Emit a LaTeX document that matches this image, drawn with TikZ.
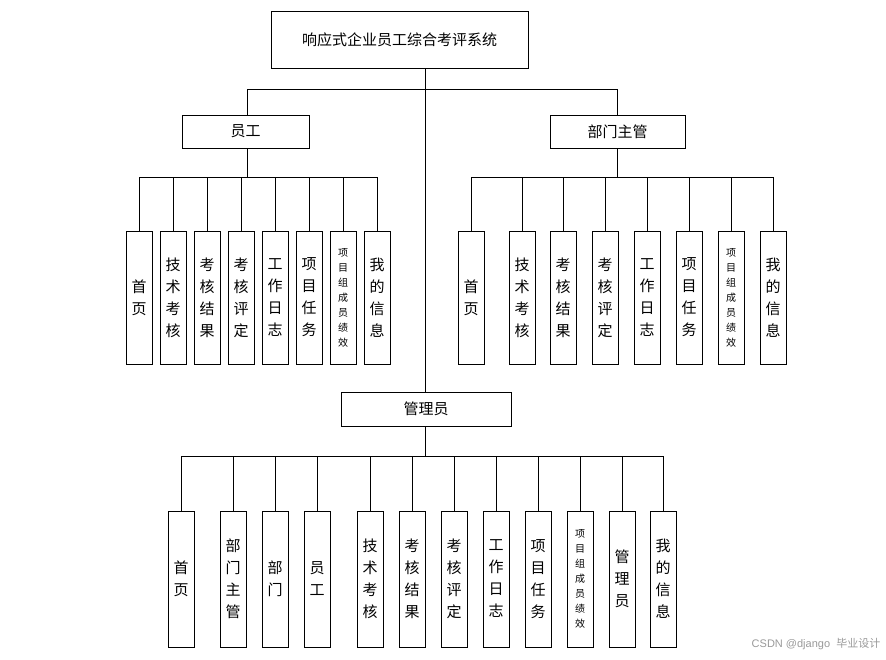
\documentclass[tikz,border=0pt]{standalone}
\usepackage{fontspec}
\newfontfamily\cjk{Noto Sans CJK SC}
\begin{document}
\begin{tikzpicture}[x=1pt,y=-1pt,line width=0.8pt,
  box/.style={draw,inner sep=0pt,font=\cjk\fontsize{15}{18}\selectfont},
  leaf/.style={draw,inner sep=0pt,minimum width=26pt,minimum height=133pt,align=center,font=\cjk\fontsize{15}{22}\selectfont},
  small/.style={font=\cjk\fontsize{10}{15}\selectfont}]
\useasboundingbox (0,0) rectangle (886,659);
\node[box,minimum width=257pt,minimum height=57pt] (root) at (399.5,39.5) {响应式企业员工综合考评系统};
\node[box,minimum width=127pt,minimum height=33pt] (emp) at (245.5,131.5) {员工};
\node[box,minimum width=135pt,minimum height=33pt] (dep) at (617.5,131.5) {部门主管};
\node[box,minimum width=170pt,minimum height=34pt] (adm) at (426,409) {管理员};
\coordinate (t) at (425,89);
\coordinate (tl) at (247,89);
\coordinate (tr) at (617,89);
\draw (root.south -| t) -- (adm.north -| t);
\draw (tl) -- (tr);
\draw (tl) -- (tl |- emp.north);
\draw (tr) -- (tr |- dep.north);
% employee leaves
\foreach \x/\n/\t/\s in {139/e1/{首\\页}/,173/e2/{技\\术\\考\\核}/,207/e3/{考\\核\\结\\果}/,241/e4/{考\\核\\评\\定}/,275/e5/{工\\作\\日\\志}/,309/e6/{项\\目\\任\\务}/,343/e7/{项\\目\\组\\成\\员\\绩\\效}/small,377/e8/{我\\的\\信\\息}/}{
  \node[leaf,\s] (\n) at (\x,297.5) {\t};
  \draw (\n.north) -- (\x,177);
}
\draw (e1.north |- 0,177) -- (e8.north |- 0,177);
\draw (emp.south -| 247,0) -- (247,177);
% department leaves
\foreach \x/\n/\t/\s in {471/d1/{首\\页}/,522/d2/{技\\术\\考\\核}/,563/d3/{考\\核\\结\\果}/,605/d4/{考\\核\\评\\定}/,647/d5/{工\\作\\日\\志}/,689/d6/{项\\目\\任\\务}/,731/d7/{项\\目\\组\\成\\员\\绩\\效}/small,773/d8/{我\\的\\信\\息}/}{
  \node[leaf,\s] (\n) at (\x,297.5) {\t};
  \draw (\n.north) -- (\x,177);
}
\draw (d1.north |- 0,177) -- (d8.north |- 0,177);
\draw (dep.south -| 617,0) -- (617,177);
% admin leaves
\foreach \x/\n/\t/\s in {181/a1/{首\\页}/,233/a2/{部\\门\\主\\管}/,275/a3/{部\\门}/,317/a4/{员\\工}/,370/a5/{技\\术\\考\\核}/,412/a6/{考\\核\\结\\果}/,454/a7/{考\\核\\评\\定}/,496/a8/{工\\作\\日\\志}/,538/a9/{项\\目\\任\\务}/,580/a10/{项\\目\\组\\成\\员\\绩\\效}/small,622/a11/{管\\理\\员}/,663/a12/{我\\的\\信\\息}/}{
  \node[leaf,minimum height=136pt,\s] (\n) at (\x,579) {\t};
  \draw (\n.north) -- (\x,456);
}
\draw (a1.north |- 0,456) -- (a12.north |- 0,456);
\draw (adm.south -| 425,0) -- (425,456);
\node[anchor=east,text=gray!80,font=\fontspec{Liberation Sans}\fontsize{11}{13}\selectfont] (wm) at (884,644) {CSDN @django\ \ {\cjk 毕业设计}};
\end{tikzpicture}
\end{document}
